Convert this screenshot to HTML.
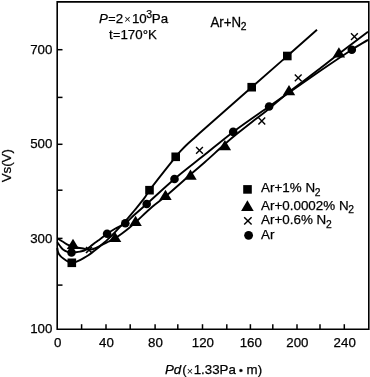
<!DOCTYPE html>
<html><head><meta charset="utf-8"><style>
html,body{margin:0;padding:0;background:#fff;}
svg{display:block;}
</style></head><body>
<svg width="370" height="377" viewBox="0 0 370 377">
<rect width="370" height="377" fill="#fff"/>
<g fill="none" stroke="#000" stroke-width="1.90">
<path stroke-width="1.6" d="M57.20,1.90 H368.80 V329.20 H57.20 Z"/>
<path stroke-width="1.5" d="M57.20,49.70 H62.50"/>
<path stroke-width="1.5" d="M57.20,97.40 H62.50"/>
<path stroke-width="1.5" d="M57.20,144.30 H62.50"/>
<path stroke-width="1.5" d="M57.20,190.20 H62.50"/>
<path stroke-width="1.5" d="M57.20,238.40 H62.50"/>
<path stroke-width="1.5" d="M57.20,285.10 H62.50"/>
<path stroke-width="1.5" d="M81.60,329.20 V324.20"/>
<path stroke-width="1.5" d="M106.00,329.20 V324.20"/>
<path stroke-width="1.5" d="M130.20,329.20 V324.20"/>
<path stroke-width="1.5" d="M155.10,329.20 V324.20"/>
<path stroke-width="1.5" d="M177.80,329.20 V324.20"/>
<path stroke-width="1.5" d="M202.50,329.20 V324.20"/>
<path stroke-width="1.5" d="M226.80,329.20 V324.20"/>
<path stroke-width="1.5" d="M250.40,329.20 V324.20"/>
<path stroke-width="1.5" d="M272.80,329.20 V324.20"/>
<path stroke-width="1.5" d="M297.00,329.20 V324.20"/>
<path stroke-width="1.5" d="M320.00,329.20 V324.20"/>
<path stroke-width="1.5" d="M344.30,329.20 V324.20"/>
<path d="M57.30,248.00 C57.50,249.17 57.57,250.36 57.90,251.50 C58.21,252.55 58.63,253.57 59.20,254.50 C59.68,255.29 60.34,255.96 61.00,256.60 C61.61,257.20 62.30,257.71 63.00,258.20 C64.54,259.28 66.03,260.45 67.70,261.30 C69.05,261.99 70.48,262.71 72.00,262.80 C73.37,262.88 74.70,262.24 76.00,261.80 C77.37,261.33 78.69,260.71 80.00,260.08 C81.36,259.42 82.69,258.69 84.00,257.93 C85.36,257.14 86.69,256.30 88.00,255.43 C89.36,254.53 90.69,253.60 92.00,252.64 C93.35,251.65 94.69,250.63 96.00,249.59 C97.35,248.52 98.68,247.42 100.00,246.30 C101.35,245.15 102.68,243.98 104.00,242.80 C105.35,241.59 106.68,240.36 108.00,239.11 C109.35,237.83 110.68,236.54 112.00,235.23 C113.35,233.89 114.68,232.54 116.00,231.17 C117.35,229.78 118.68,228.37 120.00,226.95 C121.35,225.50 122.68,224.04 124.00,222.57 C125.35,221.07 126.68,219.56 128.00,218.04 C129.35,216.49 130.68,214.93 132.00,213.36 C133.34,211.77 134.68,210.16 136.00,208.55 C137.34,206.91 138.68,205.26 140.00,203.60 C141.51,201.70 143.10,199.85 144.50,197.87 C146.27,195.38 147.65,192.63 149.50,190.20 C158.06,178.93 166.90,167.88 175.70,156.80 C177.23,154.88 178.84,153.01 180.50,151.20 C182.44,149.08 184.42,146.99 186.50,145.00 C189.02,142.59 191.71,140.34 194.30,138.00 C196.21,136.28 198.07,134.50 200.00,132.80 C217.21,117.57 234.45,102.38 251.70,87.20 C263.55,76.78 275.46,66.43 287.30,56.00 C297.22,47.26 307.10,38.47 317.00,29.70"/>
<path d="M57.30,242.30 C58.20,243.53 59.04,244.81 60.00,246.00 C60.95,247.18 61.81,248.47 63.00,249.40 C64.35,250.46 65.89,251.31 67.50,251.90 C68.77,252.36 70.15,252.45 71.50,252.50 C73.00,252.55 74.51,252.36 76.00,252.20 C77.34,252.06 78.68,251.87 80.00,251.60 C81.42,251.31 82.86,251.04 84.20,250.50 C85.54,249.96 86.80,249.21 88.00,248.40 C89.24,247.57 90.34,246.54 91.50,245.60 C92.67,244.64 93.79,243.61 95.00,242.70 C96.63,241.48 98.35,240.39 100.00,239.20 C101.18,238.35 102.35,237.49 103.50,236.60 C104.68,235.69 105.77,234.65 107.00,233.80 C109.61,232.01 112.26,230.29 115.00,228.70 C118.37,226.75 122.13,225.46 125.30,223.20 C128.58,220.86 131.20,217.69 134.20,215.00 C138.33,211.29 142.56,207.70 146.70,204.00 C155.99,195.70 165.00,187.07 174.50,179.00 C184.11,170.84 194.17,163.24 204.00,155.35 C213.74,147.54 223.22,139.39 233.20,131.90 C244.93,123.10 257.10,114.92 269.10,106.50 C286.03,94.62 302.95,82.71 320.00,71.00 C330.52,63.78 341.09,56.64 351.80,49.70 C357.10,46.27 362.60,43.17 368.00,39.90"/>
<path d="M57.50,238.50 C59.33,239.60 61.16,240.71 63.00,241.80 C64.86,242.91 66.58,244.32 68.60,245.10 C71.69,246.30 74.97,246.95 78.20,247.70 C80.18,248.16 82.21,248.33 84.20,248.70 C85.64,248.97 87.04,249.47 88.50,249.60 C89.66,249.70 90.85,249.63 92.00,249.40 C93.04,249.19 94.02,248.73 95.00,248.30 C96.69,247.56 98.34,246.71 100.00,245.90 C102.01,244.91 104.01,243.92 106.00,242.90 C107.34,242.22 108.66,241.49 110.00,240.80 C111.66,239.95 113.41,239.27 115.00,238.30 C117.42,236.83 119.71,235.17 122.00,233.50 C124.52,231.67 127.01,229.79 129.40,227.80 C131.81,225.79 134.09,223.63 136.40,221.50 C141.62,216.69 146.62,211.63 152.00,207.00 C156.50,203.13 161.46,199.82 166.00,196.00 C174.13,189.15 181.99,181.99 190.00,175.00 C194.99,170.65 200.05,166.39 205.00,162.00 C211.88,155.89 218.59,149.59 225.50,143.50 C229.26,140.18 233.11,136.97 237.00,133.80 C241.95,129.77 246.96,125.82 252.00,121.90 C256.83,118.15 261.85,114.64 266.60,110.80 C274.18,104.67 281.35,98.04 289.00,92.00 C299.16,83.97 309.72,76.47 320.00,68.60 C326.35,63.74 332.55,58.67 338.90,53.80 C348.55,46.40 358.30,39.13 368.00,31.80"/>
</g>
<g fill="#000">
<rect x="67.50" y="258.50" width="8.60" height="8.60"/>
<rect x="145.20" y="185.90" width="8.60" height="8.60"/>
<rect x="171.40" y="152.50" width="8.60" height="8.60"/>
<rect x="247.40" y="82.90" width="8.60" height="8.60"/>
<rect x="283.00" y="51.70" width="8.60" height="8.60"/>
<circle cx="71.50" cy="252.50" r="4.30"/>
<circle cx="107.10" cy="233.70" r="4.30"/>
<circle cx="125.30" cy="223.20" r="4.30"/>
<circle cx="146.70" cy="204.00" r="4.30"/>
<circle cx="174.50" cy="179.00" r="4.30"/>
<circle cx="233.20" cy="131.90" r="4.30"/>
<circle cx="269.10" cy="106.50" r="4.30"/>
<circle cx="351.80" cy="49.70" r="4.30"/>
<polygon points="73.00,238.80 66.80,249.00 79.20,249.00"/>
<polygon points="115.10,231.90 108.90,242.10 121.30,242.10"/>
<polygon points="135.60,215.80 129.40,226.00 141.80,226.00"/>
<polygon points="165.50,189.70 159.30,199.90 171.70,199.90"/>
<polygon points="190.50,169.60 184.30,179.80 196.70,179.80"/>
<polygon points="224.90,140.10 218.70,150.30 231.10,150.30"/>
<polygon points="289.00,85.10 282.80,95.30 295.20,95.30"/>
<polygon points="338.90,47.20 332.70,57.40 345.10,57.40"/>
</g>
<g fill="none" stroke="#000" stroke-width="1.4">
<path d="M196.10,146.90 L202.90,153.70 M196.10,153.70 L202.90,146.90"/>
<path d="M258.40,117.60 L265.20,124.40 M258.40,124.40 L265.20,117.60"/>
<path d="M294.80,74.50 L301.60,81.30 M294.80,81.30 L301.60,74.50"/>
<path d="M351.00,33.30 L357.80,40.10 M351.00,40.10 L357.80,33.30"/>
</g>
<g fill="none" stroke="#000" stroke-width="1.7"><path d="M86.00,247.00 L92.00,253.00 M86.00,253.00 L92.00,247.00"/></g>
<g fill="#000">
<rect x="243.20" y="185.10" width="8.60" height="8.60"/>
<polygon points="247.40,200.30 241.10,210.90 253.70,210.90"/>
<circle cx="248.60" cy="235.30" r="4.40"/>
</g>
<g fill="none" stroke="#000" stroke-width="1.45"><path d="M244.20,217.20 L251.60,224.60 M244.20,224.60 L251.60,217.20"/></g>
<g font-family="Liberation Sans, Arial, sans-serif" font-size="13.30" fill="#000" stroke="#000" stroke-width="0.25">
<text x="52.40" y="54.25" text-anchor="end">700</text>
<text x="52.40" y="148.05" text-anchor="end">500</text>
<text x="52.40" y="242.55" text-anchor="end">300</text>
<text x="52.40" y="333.35" text-anchor="end">100</text>
<text x="57.60" y="346.90" text-anchor="middle">0</text>
<text x="106.40" y="346.90" text-anchor="middle">40</text>
<text x="155.50" y="346.90" text-anchor="middle">80</text>
<text x="202.90" y="346.90" text-anchor="middle">120</text>
<text x="250.80" y="346.90" text-anchor="middle">160</text>
<text x="297.40" y="346.90" text-anchor="middle">200</text>
<text x="344.70" y="346.90" text-anchor="middle">240</text>
<text x="99.00" y="23.10"><tspan font-style="italic">P</tspan><tspan stroke-width="0">=</tspan>2<tspan dx="1.2" font-size="11" stroke-width="0">×</tspan><tspan dx="1.2">10</tspan><tspan font-size="10.5" dy="-5" dx="-0.5">3</tspan><tspan dy="5" dx="-0.2">Pa</tspan></text>
<text x="109.00" y="39.40">t<tspan stroke-width="0">=</tspan>170°K</text>
<text transform="translate(210.50,26.90) scale(1,1.040)">Ar+N<tspan font-size="10.3" dy="3.3" dx="-0.3">2</tspan></text>
<text x="261.10" y="192.40" font-size="13.40">Ar+1% N<tspan font-size="10.3" dy="3.3" dx="-0.3">2</tspan></text>
<text x="261.10" y="209.50" font-size="13.40">Ar+0.0002% N<tspan font-size="10.3" dy="3.3" dx="-0.3">2</tspan></text>
<text x="261.10" y="224.30" font-size="13.40">Ar+0.6% N<tspan font-size="10.3" dy="3.3" dx="-0.3">2</tspan></text>
<text x="261.10" y="238.90" font-size="13.40">Ar</text>
<text x="165.00" y="374.00"><tspan font-style="italic">Pd</tspan><tspan dx="1.1">(</tspan><tspan font-size="10.8" stroke-width="0" dy="0.5">×</tspan><tspan dx="0.6" dy="-0.5">1.33Pa </tspan><tspan font-size="11" dx="-0.5">•</tspan><tspan> m)</tspan></text>
<text transform="translate(11.2,165.7) rotate(-90)" text-anchor="middle">Vs(V)</text>
</g>
</svg>
</body></html>
